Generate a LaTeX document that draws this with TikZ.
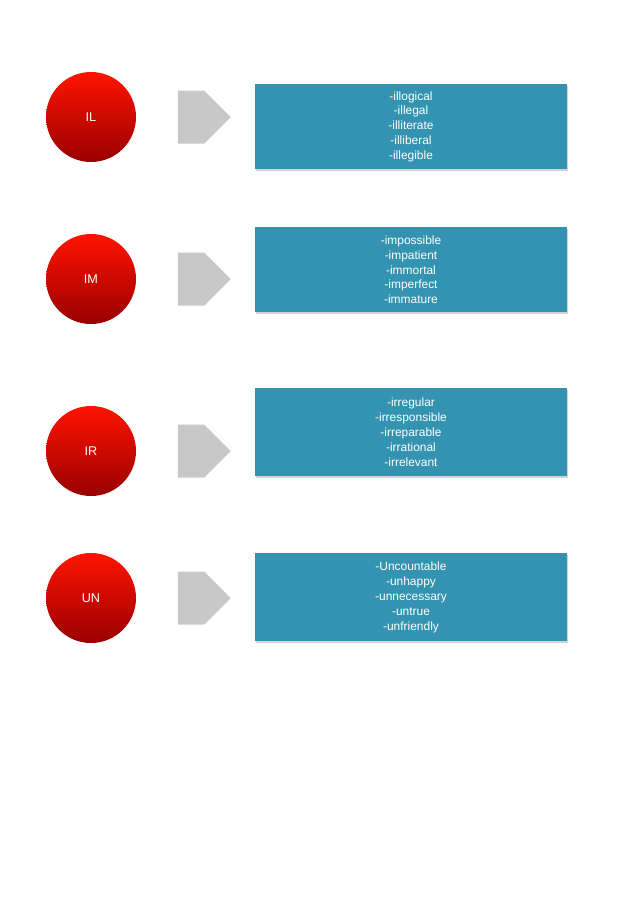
\documentclass[tikz,border=0pt]{standalone}
\usepackage{fontspec}
\setmainfont{Liberation Sans}
\usetikzlibrary{shapes.arrows,shadows}
\definecolor{boxblue}{HTML}{3393B0}
\definecolor{arrowgray}{HTML}{C8C8C8}
\begin{document}
\begin{tikzpicture}[x=0.025cm,y=-0.025cm,
    redball/.style={circle, minimum size=90*0.025cm, inner sep=0pt,
      top color=red!85!orange, bottom color=red!60!black, text=white,
      font=\fontsize{9pt}{11pt}\selectfont},
    wordbox/.style={rectangle, fill=boxblue, text=white, align=center,
      minimum width=312*0.025cm, anchor=north, inner sep=2pt,
      font=\fontsize{8.5pt}{10.6pt}\selectfont,
      drop shadow={opacity=0.35, shadow xshift=1pt, shadow yshift=-1pt}},
    pointer/.style={single arrow, fill=arrowgray, minimum height=53*0.025cm,
      minimum width=53*0.025cm, single arrow head extend=0pt, inner sep=0pt,
      single arrow tip angle=90}]
  \useasboundingbox (0,0) rectangle (638,902);
  % IL
  \node[redball] (il) at (91,117) {IL};
  \node[pointer] (ilarrow) at (191,117) {};
  \node[wordbox, minimum height=85*0.025cm] (ilbox) at (411,84)
    {-illogical\\-illegal\\-illiterate\\-illiberal\\-illegible};
  % IM
  \node[redball] (im) at (91,279) {IM};
  \node[pointer] (imarrow) at (191,279) {};
  \node[wordbox, minimum height=85*0.025cm] (imbox) at (411,227)
    {-impossible\\-impatient\\-immortal\\-imperfect\\-immature};
  % IR
  \node[redball] (ir) at (91,451) {IR};
  \node[pointer] (irarrow) at (191,451) {};
  \node[wordbox, minimum height=88*0.025cm] (irbox) at (411,388)
    {-irregular\\-irresponsible\\-irreparable\\-irrational\\-irrelevant};
  % UN
  \node[redball] (un) at (91,598) {UN};
  \node[pointer] (unarrow) at (191,598) {};
  \node[wordbox, minimum height=88*0.025cm] (unbox) at (411,553)
    {-Uncountable\\-unhappy\\-unnecessary\\-untrue\\-unfriendly};
\end{tikzpicture}
\end{document}
